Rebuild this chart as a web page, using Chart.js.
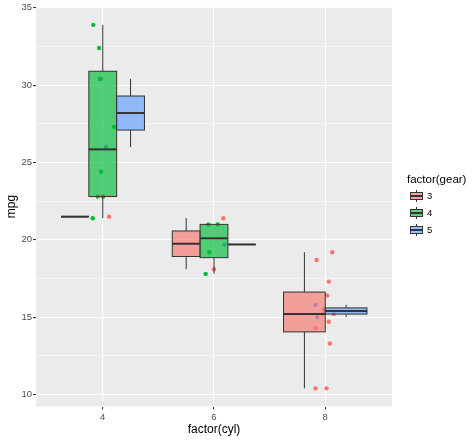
<!DOCTYPE html>
<html>
<head>
<meta charset="utf-8">
<script src="https://cdn.jsdelivr.net/npm/chart.js@4.4.1/dist/chart.umd.min.js"></script>
<style>
   html, body { margin: 0; padding: 0; background: #fff; }
   #wrap { width: 474px; height: 441px; }
</style>
</head>
<body>
<div id="wrap"><canvas id="chart" width="474" height="441"></canvas></div>
<script>
const cylLabels = ['4', '6', '8']
const gearLabels = ['3', '4', '5']
const gearColors = ['#F8766D', '#00BA38', '#619CFF']
const yTicks = [10, 12.5, 15, 17.5, 20, 22.5, 25, 27.5, 30, 32.5, 35]

// one box per cyl/gear pair that has cars (cyl index, gear index)
const boxCyl = [0, 0, 0, 1, 1, 1, 2, 2]
const boxGear = [0, 1, 2, 0, 1, 2, 0, 2]
const boxLow = [21.5, 21.4, 26.0, 18.1, 17.8, 19.7, 10.4, 15.0]
const boxQ1 = [21.5, 22.8, 27.1, 18.925, 18.85, 19.7, 14.05, 15.2]
const boxMed = [21.5, 25.85, 28.2, 19.75, 20.1, 19.7, 15.2, 15.4]
const boxQ3 = [21.5, 30.9, 29.3, 20.575, 21.0, 19.7, 16.625, 15.6]
const boxHigh = [21.5, 33.9, 30.4, 21.4, 21.0, 19.7, 19.2, 15.8]

// jittered points, x (1 = cyl 4, 2 = cyl 6, 3 = cyl 8)
const gear3X = [1.057, 2.084, 2.0, 3.063, 2.922, 3.032, 3.018, 2.988, 3.078, 2.973, 3.032, 2.913, 3.041, 2.913, 3.012]
const gear3Mpg = [21.5, 21.4, 18.1, 19.2, 18.7, 17.3, 16.4, 15.5, 15.2, 15.2, 14.7, 14.3, 13.3, 10.4, 10.4]
const gear4X = [0.915, 0.967, 0.975, 1.102, 0.985, 0.955, 1.003, 0.910, 1.949, 2.033, 1.958, 1.925]
const gear4Mpg = [33.9, 32.4, 30.4, 27.3, 24.4, 22.8, 22.8, 21.4, 21.0, 21.0, 19.2, 17.8]
const gear5X = [1.03, 0.985, 2.093, 2.913, 2.928]
const gear5Mpg = [26.0, 30.4, 19.7, 15.8, 15.0]

const pointX = [gear3X, gear4X, gear5X]
const pointMpg = [gear3Mpg, gear4Mpg, gear5Mpg]

const FONT = "'Liberation Sans', Arial, sans-serif"
const LINE = '#333333'
const FILL_ALPHA = 0.65

function withAlpha(hex, a) {
   const n = parseInt(hex.slice(1), 16)
   return `rgba(${(n >> 16) & 255}, ${(n >> 8) & 255}, ${n & 255}, ${a})`
}

// grey panel behind the grid
const panelPlugin = {
   id: 'panel',
   beforeDraw(chart) {
      const { ctx, chartArea: a } = chart
      ctx.save()
      ctx.fillStyle = '#EBEBEB'
      ctx.fillRect(a.left, a.top, a.right - a.left, a.bottom - a.top)
      ctx.restore()
   }
}

// boxes, whiskers and medians, dodged inside each cyl
const boxPlugin = {
   id: 'boxes',
   afterDatasetsDraw(chart) {
      const { ctx, scales: { x, y } } = chart
      ctx.save()
      boxCyl.forEach((c, i) => {
         const n = boxCyl.filter(v => v === c).length
         const k = boxCyl.slice(0, i).filter(v => v === c).length
         const w = 0.75 / n
         const start = c + 1 - 0.375 + k * w
         const xl = x.getPixelForValue(start)
         const xr = x.getPixelForValue(start + w)
         const xm = (xl + xr) / 2
         const yLo = y.getPixelForValue(boxLow[i])
         const yQ1 = y.getPixelForValue(boxQ1[i])
         const yMed = y.getPixelForValue(boxMed[i])
         const yQ3 = y.getPixelForValue(boxQ3[i])
         const yHi = y.getPixelForValue(boxHigh[i])

         ctx.strokeStyle = LINE
         ctx.lineWidth = 1
         ctx.beginPath()
         ctx.moveTo(xm, yLo); ctx.lineTo(xm, yQ1)
         ctx.moveTo(xm, yQ3); ctx.lineTo(xm, yHi)
         ctx.stroke()

         ctx.fillStyle = withAlpha(gearColors[boxGear[i]], FILL_ALPHA)
         ctx.fillRect(xl, yQ3, xr - xl, yQ1 - yQ3)
         ctx.strokeRect(xl, yQ3, xr - xl, yQ1 - yQ3)

         ctx.lineWidth = 2
         ctx.beginPath()
         ctx.moveTo(xl, yMed); ctx.lineTo(xr, yMed)
         ctx.stroke()
      })
      ctx.restore()
   }
}

// ggplot style legend with little boxplot keys
const legendPlugin = {
   id: 'gearLegend',
   afterDraw(chart) {
      const { ctx } = chart
      const left = 407
      ctx.save()
      ctx.fillStyle = '#000000'
      ctx.font = `11.5px ${FONT}`
      ctx.textBaseline = 'middle'
      ctx.textAlign = 'left'
      ctx.fillText('factor(gear)', left, 180)

      gearLabels.forEach((g, i) => {
         const cy = 196 + i * 17
         const kx = 410.5, kw = 12
         ctx.strokeStyle = LINE
         ctx.lineWidth = 1
         ctx.beginPath()
         ctx.moveTo(kx + kw / 2, cy - 6); ctx.lineTo(kx + kw / 2, cy - 3.5)
         ctx.moveTo(kx + kw / 2, cy + 3.5); ctx.lineTo(kx + kw / 2, cy + 6)
         ctx.stroke()
         ctx.fillStyle = withAlpha(gearColors[i], FILL_ALPHA)
         ctx.fillRect(kx, cy - 3.5, kw, 7)
         ctx.strokeRect(kx, cy - 3.5, kw, 7)
         ctx.lineWidth = 2
         ctx.beginPath()
         ctx.moveTo(kx, cy); ctx.lineTo(kx + kw, cy)
         ctx.stroke()

         ctx.fillStyle = '#000000'
         ctx.font = `9.5px ${FONT}`
         ctx.fillText(g, 427, cy + 0.5)
      })
      ctx.restore()
   }
}

const isMajor = (v) => Math.abs(v % 5) < 1e-9

new Chart(document.getElementById('chart'), {
   type: 'scatter',
   data: {
      datasets: gearLabels.map((g, i) => ({
         label: g,
         data: pointX[i].map((xv, j) => ({ x: xv, y: pointMpg[i][j] })),
         backgroundColor: gearColors[i],
         borderWidth: 0,
         pointRadius: 2.2,
      }))
   },
   options: {
      responsive: false,
      animation: false,
      layout: { padding: { top: 5, right: 82, left: 0, bottom: 0 } },
      plugins: {
         legend: { display: false },
         tooltip: { enabled: false },
      },
      scales: {
         x: {
            type: 'linear',
            min: 0.4,
            max: 3.6,
            afterBuildTicks: (s) => { s.ticks = [1, 2, 3].map(v => ({ value: v })) },
            afterFit: (s) => { s.height = 34.5 },
            border: { display: false },
            grid: {
               color: '#FFFFFF',
               lineWidth: 1.1,
               tickLength: 3,
               tickColor: LINE,
            },
            ticks: {
               color: '#4D4D4D',
               font: { family: FONT, size: 9.5 },
               padding: 2,
               maxRotation: 0,
               autoSkip: false,
               callback: (v) => cylLabels[Math.round(v) - 1],
            },
            title: {
               display: true,
               text: 'factor(cyl)',
               color: '#000000',
               font: { family: FONT, size: 12 },
               padding: { top: 0, bottom: 3.8 },
            },
         },
         y: {
            type: 'linear',
            min: 9.225,
            max: 35.075,
            afterBuildTicks: (s) => { s.ticks = yTicks.map(v => ({ value: v })) },
            afterFit: (s) => { s.width = 36 },
            border: { display: false },
            grid: {
               color: '#FFFFFF',
               lineWidth: (c) => (c.tick && isMajor(c.tick.value) ? 1.1 : 0.55),
               tickLength: 3,
               tickColor: (c) => (c.tick && isMajor(c.tick.value) ? LINE : 'rgba(0,0,0,0)'),
            },
            ticks: {
               color: '#4D4D4D',
               font: { family: FONT, size: 9.5 },
               padding: 1,
               autoSkip: false,
               callback: (v) => (isMajor(v) ? String(v) : ''),
            },
            title: {
               display: true,
               text: 'mpg',
               color: '#000000',
               font: { family: FONT, size: 12 },
               padding: { top: 4.8, bottom: 0 },
            },
         },
      },
   },
   plugins: [panelPlugin, boxPlugin, legendPlugin],
})
</script>
</body>
</html>
